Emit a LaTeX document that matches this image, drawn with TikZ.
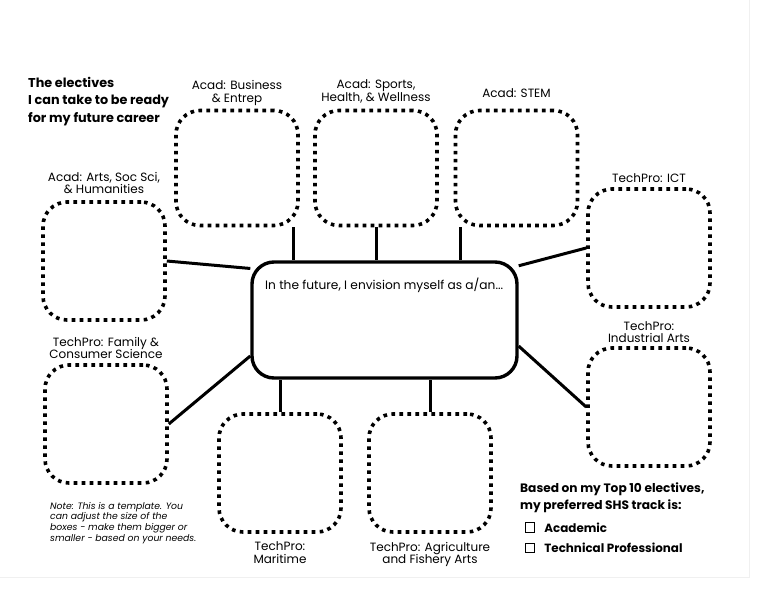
\documentclass[tikz,border=0pt]{standalone}
\usepackage{fontspec}
\setmainfont{Poppins}
\usepackage{tikz}
\usepackage{xcolor}
\usetikzlibrary{positioning,backgrounds}

\begin{document}
\begin{tikzpicture}[x=1pt,y=-1pt,
  elective/.style={draw,line width=3.6pt,dash pattern=on 3.6pt off 4.4pt,
        rounded corners=24pt,fill=white,minimum width=122pt,minimum height=118pt},
  boxlabel/.style={inner sep=0pt,align=center,font=\fontsize{12}{12.8}\selectfont},
  link/.style={line width=3pt},
  tick/.style={draw,line width=0.9pt,minimum size=9.5pt,inner sep=0pt}]

  \useasboundingbox (0,0) rectangle (768,594);
  % faint page edge
  \draw[black!6,line width=0.8pt] (0,577) -- (749,577) -- (749,0);

  % centre box
  \node[draw,line width=3.4pt,rounded corners=22pt,fill=white,
        minimum width=265pt,minimum height=116pt] (centre) at (384.5,320) {};
  \node[inner sep=0pt,anchor=west,font=\fontsize{12.2}{14}\selectfont]
    (vision) at (265,285) {In the future, I envision myself as a/an...};

  % elective boxes
  \node[elective,minimum height=115pt] (business) at (237,168) {};
  \node[elective,minimum height=115pt] (sports) at (376,168) {};
  \node[elective,minimum height=115pt] (stem) at (516.5,168) {};
  \node[elective] (arts) at (104,261) {};
  \node[elective] (ict) at (649,248) {};
  \node[elective] (family) at (106,424) {};
  \node[elective] (industrial) at (649,407) {};
  \node[elective] (maritime) at (280,473) {};
  \node[elective] (agri) at (430,473) {};

  \node[boxlabel,above=3pt of business] {Acad: Business\\\& Entrep};
  \node[boxlabel,above=5pt of sports] {Acad: Sports,\\Health, \& Wellness};
  \node[boxlabel,above=11pt of stem] {Acad: STEM};
  \node[boxlabel,above=6pt of arts] {Acad: Arts, Soc Sci,\\\& Humanities};
  \node[boxlabel,above=4pt of ict] {TechPro: ICT};
  \node[boxlabel,above=4pt of family] {TechPro: Family \&\\Consumer Science};
  \node[boxlabel,above=3pt of industrial] {TechPro:\\Industrial Arts};
  \node[boxlabel,below=8pt of maritime] {TechPro:\\Maritime};
  \node[boxlabel,below=8pt of agri] {TechPro: Agriculture\\and Fishery Arts};

  % connectors
  \begin{scope}[on background layer]
    \draw[link] ([xshift=-6pt]business.south east) -- ([xshift=-6pt]business.south east |- centre.north);
    \draw[link] (sports.south) -- (sports.south |- centre.north);
    \draw[link] ([xshift=7pt]stem.south west) -- ([xshift=7pt]stem.south west |- centre.north);
    \draw[link] (maritime.north) -- (maritime.north |- centre.south);
    \draw[link] (agri.north) -- (agri.north |- centre.south);
    \draw[link] (arts.east) -- (centre.159);
    \draw[link] (ict.west) -- (centre.22);
    \draw[link] (family.east) -- (centre.195);
    \draw[link] (industrial.west) -- (centre.-11.5);
  \end{scope}

  % heading
  \node[inner sep=0pt,anchor=north west,align=left,
        font=\fontsize{12.8}{17.5}\selectfont\bfseries] (heading) at (28,77)
    {The electives\\I can take to be ready\\for my future career};

  % note
  \node[inner sep=0pt,anchor=north west,align=left,
        font=\fontsize{9.3}{10.6}\selectfont\itshape] (note) at (50,502)
    {Note: This is a template. You\\can adjust the size of the\\boxes - make them bigger or\\smaller - based on your needs.};

  % track choice
  \node[inner sep=0pt,anchor=north west,align=left,
        font=\fontsize{12.2}{17}\selectfont\bfseries] (track) at (520,483)
    {Based on my Top 10 electives,\\my preferred SHS track is:};
  \node[tick] (acadbox) at (530,527.5) {};
  \node[tick] (techbox) at (530,548) {};
  \node[inner sep=0pt,anchor=west,font=\fontsize{11.9}{13}\selectfont\bfseries,
        right=9pt of acadbox] (acad) {Academic};
  \node[inner sep=0pt,anchor=west,font=\fontsize{11.9}{13}\selectfont\bfseries,
        right=9pt of techbox] (tech) {Technical Professional};

\end{tikzpicture}
\end{document}
